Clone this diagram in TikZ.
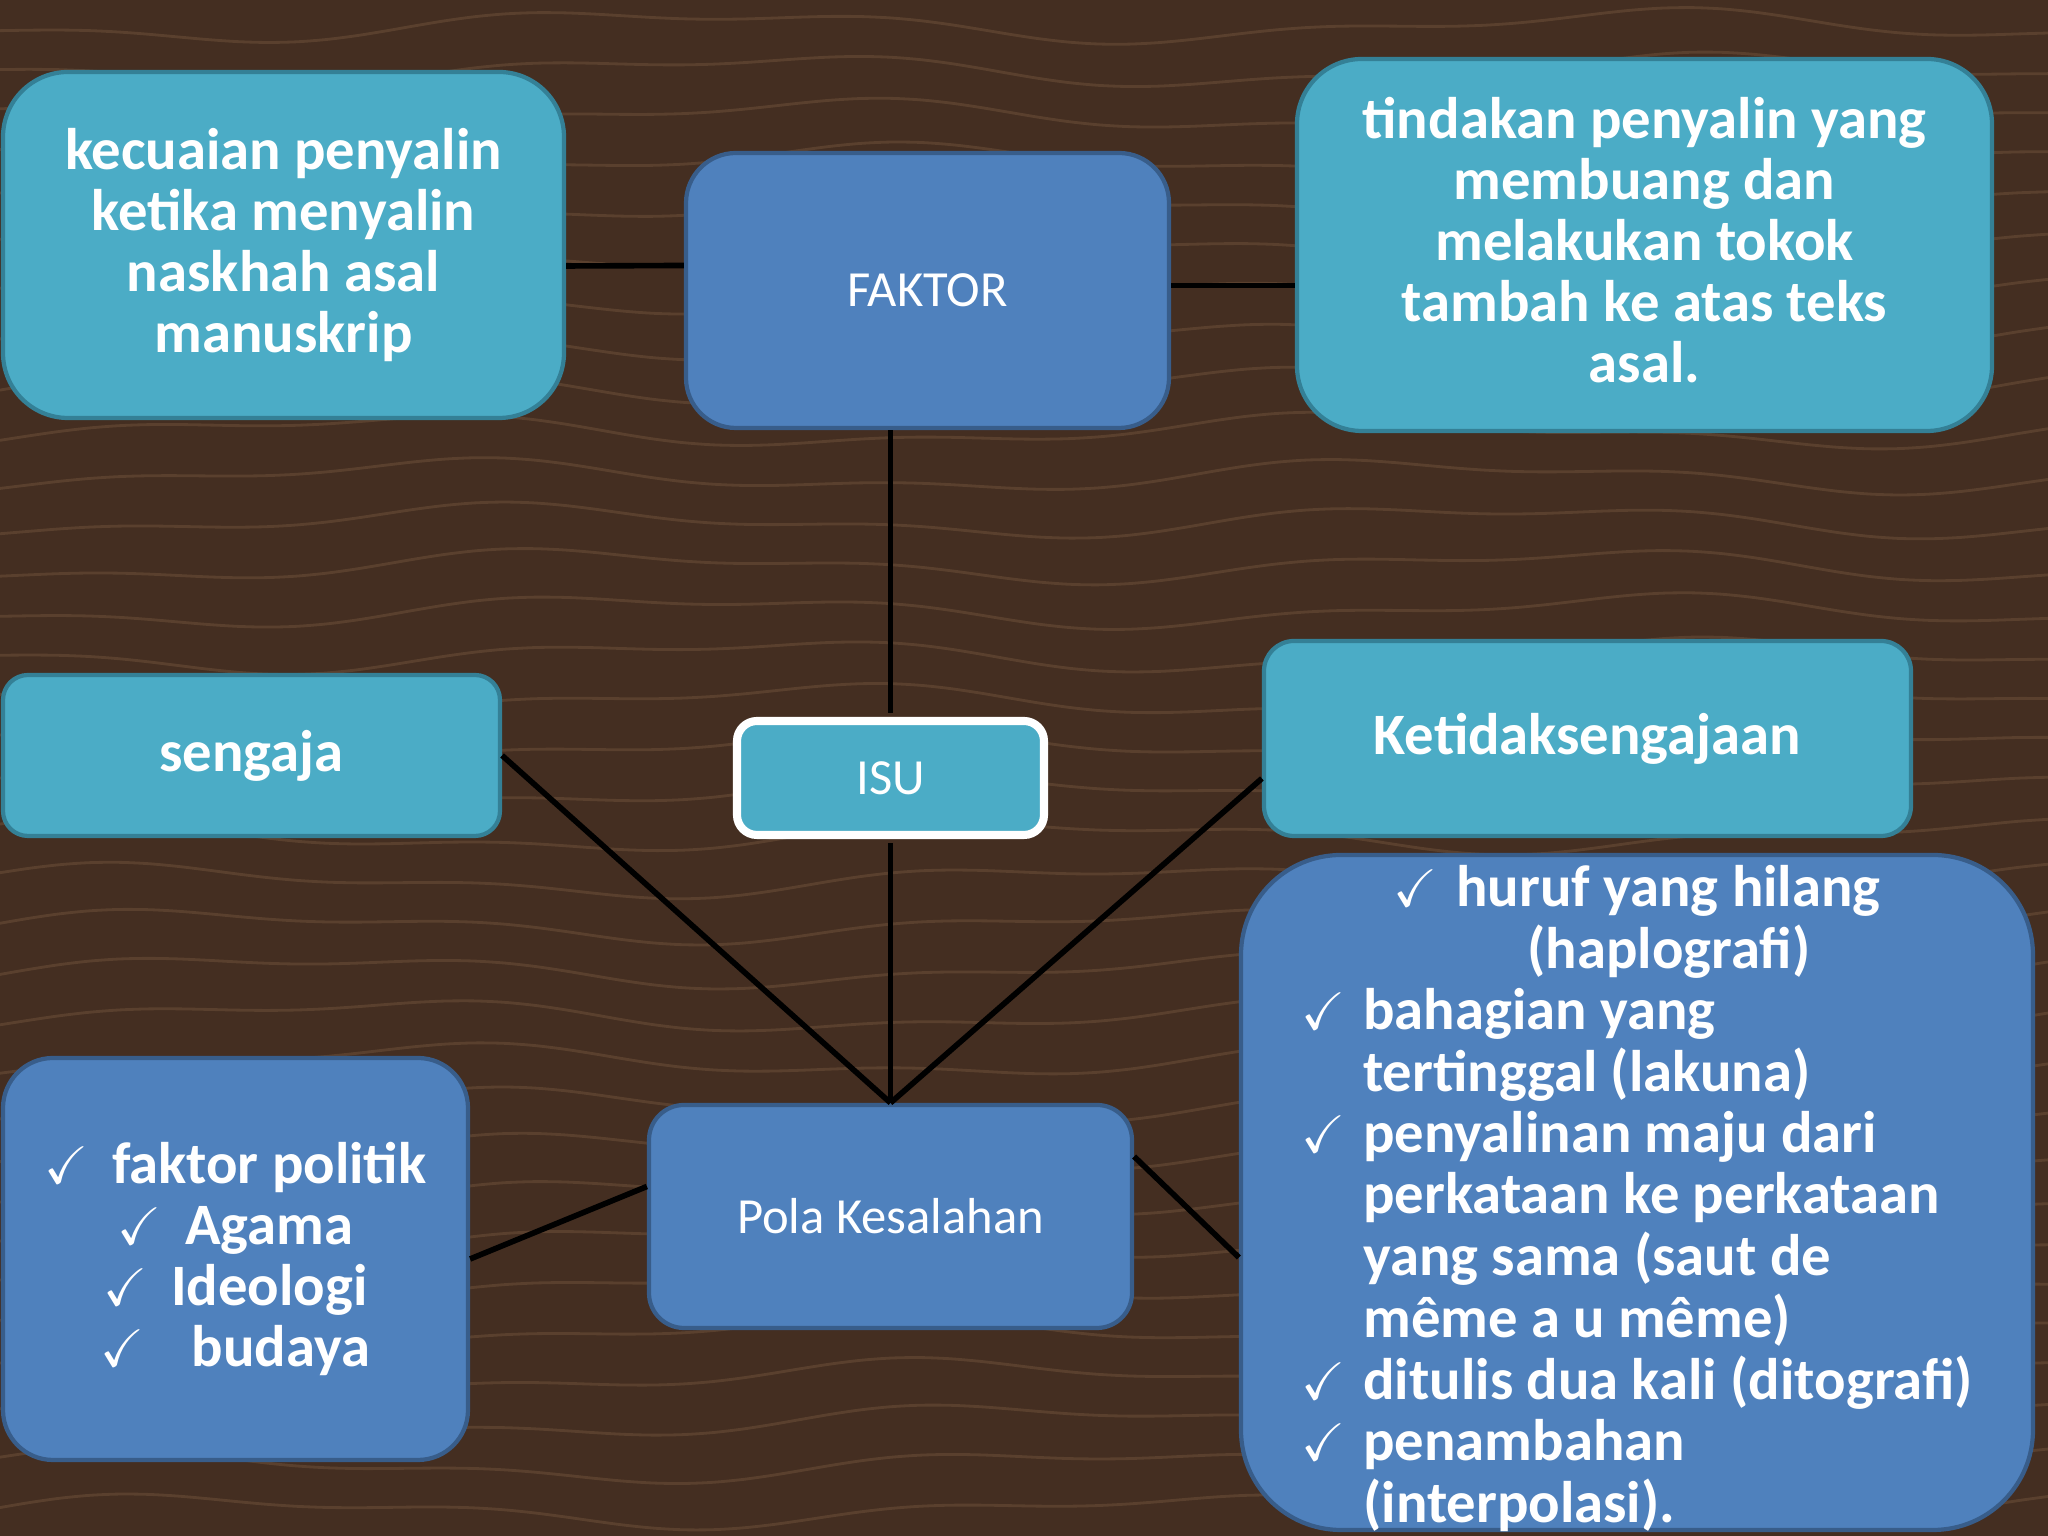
\documentclass[tikz,border=0pt]{standalone}
\usepackage{fontspec}
\setmainfont{Carlito}
\usepackage{amssymb}
\definecolor{wood}{RGB}{68,46,33}
\definecolor{woodgrain}{RGB}{118,88,62}
\definecolor{tealfill}{RGB}{75,172,198}
\definecolor{tealline}{RGB}{52,128,150}
\definecolor{bluefill}{RGB}{79,129,189}
\definecolor{blueline}{RGB}{56,93,138}
\newcommand{\ck}{\scalebox{0.9}{$\checkmark$}}
\newcommand{\boldtext}{\fontsize{16.7}{17.4}\selectfont\bfseries}
\newcommand{\plaintext}{\fontsize{14.4}{17}\selectfont}
\tikzset{
  tealbox/.style={draw=tealline, fill=tealfill, line width=1.2pt, text=white, align=center, font=\boldtext},
  bluebox/.style={draw=blueline, fill=bluefill, line width=1.2pt, text=white, align=center, font=\boldtext},
  link/.style={line width=1.6pt, black},
  grain/.style={woodgrain, line width=0.8pt, opacity=0.45}
}
\begin{document}
\begin{tikzpicture}
    \fill[wood] (0,0) rectangle (20.48,15.36);
    \useasboundingbox (0,0) rectangle (20.48,15.36);
    \foreach \y in {0.25,0.7,...,15.2}
        \draw[grain] plot[domain=0:20.48, samples=70, smooth] (\x, {\y + 0.13*sin(37*\x + 61*\y) + 0.06*sin(90*\x)});

    \node[tealbox, minimum width=5.61cm, minimum height=3.46cm, rounded corners=0.65cm] (kec) at (2.835,12.91)
        {kecuaian penyalin\\ ketika menyalin\\ naskhah asal\\ manuskrip};
    \node[bluebox, font=\plaintext, minimum width=4.83cm, minimum height=2.75cm, rounded corners=0.5cm] (faktor) at (9.275,12.455) {FAKTOR};
    \node[tealbox, minimum width=6.95cm, minimum height=3.72cm, rounded corners=0.65cm] (tind) at (16.445,12.91) {};
    \node[text=white, align=center, font=\boldtext] (tindtext) at ([yshift=0.05cm]tind.center)
        {tindakan penyalin yang\\ membuang dan\\ melakukan tokok\\ tambah ke atas teks\\ asal.};
    \node[tealbox, minimum width=4.97cm, minimum height=1.61cm, rounded corners=0.25cm] (seng) at (2.515,7.805) {sengaja};
    \node[tealbox, draw=white, line width=2.3pt, font=\plaintext, minimum width=3.07cm, minimum height=1.14cm, rounded corners=0.2cm] (isu) at (8.905,7.58) {ISU};
    \node[tealbox, minimum width=6.47cm, minimum height=1.95cm, rounded corners=0.3cm] (ketid) at (15.875,7.975) {Ketidaksengajaan};
    \node[bluebox, minimum width=7.92cm, minimum height=6.75cm, rounded corners=1cm] (kinds) at (16.37,3.435) {};
    \node[text=white, font=\boldtext] (kindstext) at ([yshift=-0.1cm]kinds.center) {%
        \begin{tabular}{@{}l@{}l@{}}
        \multicolumn{2}{@{}l@{}}{\hspace*{0.92cm}\makebox[0.63cm][l]{\ck}huruf yang hilang}\\
        \multicolumn{2}{@{}l@{}}{\hspace*{2.26cm}(haplografi)}\\
        \makebox[0.62cm][l]{\ck} & bahagian yang\\
         & tertinggal (lakuna)\\
        \makebox[0.62cm][l]{\ck} & penyalinan maju dari\\
         & perkataan ke perkataan\\
         & yang sama (saut de\\
         & même a u même)\\
        \makebox[0.62cm][l]{\ck} & ditulis dua kali (ditografi)\\
        \makebox[0.62cm][l]{\ck} & penambahan\\
         & (interpolasi).
        \end{tabular}};
    \node[bluebox, font=\plaintext, minimum width=4.83cm, minimum height=2.23cm, rounded corners=0.35cm] (pola) at (8.905,3.195) {Pola Kesalahan};
    \node[bluebox, minimum width=4.65cm, minimum height=4.02cm, rounded corners=0.5cm] (faktorlist) at (2.355,2.77)
        {\ck\hspace{0.4em}faktor politik\\ \ck\hspace{0.4em}Agama\\ \ck\hspace{0.4em}Ideologi\\ \ck\hspace{0.8em}budaya};

    \draw[link] ([yshift=-0.21cm]kec.east) -- ([yshift=0.25cm]faktor.west);
    \draw[link] ([yshift=0.05cm]faktor.east) -- ([yshift=0.05cm]faktor.east -| tind.west);
    \draw[link, shorten <=1.2pt] (isu.north) -- (isu.north |- faktor.south);
    \draw[link, shorten <=1.2pt] (isu.south) -- (pola.north);
    \draw[link] (seng.east) -- (pola.north);
    \draw[link] ([yshift=-0.4cm]ketid.west) -- (pola.north);
    \draw[link] (faktorlist.east) -- ([yshift=0.3cm]pola.west);
    \draw[link] ([yshift=0.6cm]pola.east) -- ([yshift=-0.65cm]kinds.west);
\end{tikzpicture}
\end{document}
